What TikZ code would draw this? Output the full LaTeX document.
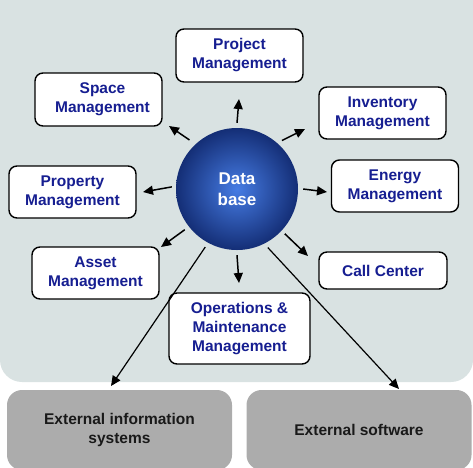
\documentclass[tikz,border=0pt]{standalone}
\usepackage{fontspec}
\setmainfont{Liberation Sans}
\usetikzlibrary{arrows.meta, positioning, shapes.geometric}
\definecolor{panelgrey}{RGB}{217,226,226}
\definecolor{extgrey}{RGB}{172,172,172}
\definecolor{modnavy}{RGB}{22,30,145}
\definecolor{dbbright}{RGB}{70,124,228}
\definecolor{dbdark}{RGB}{20,46,118}

\begin{document}
\begin{tikzpicture}[x=1pt, y=-1pt, >={Triangle[length=10pt, width=9pt]}]
        \tikzstyle{module} = [rectangle, rounded corners=8pt, draw=black, line width=1.4pt, fill=white,
            minimum width=127pt, minimum height=53pt, align=center, text=modnavy,
            font=\fontsize{15.5}{19}\selectfont\bfseries]
        \tikzstyle{external} = [rectangle, rounded corners=15pt, fill=extgrey, minimum width=225pt,
            minimum height=80pt, align=center, text=black!90, font=\fontsize{15.5}{18.5}\selectfont\bfseries]
        \tikzstyle{link} = [->, line width=1.5pt]
        \tikzstyle{longlink} = [->, line width=1.2pt]

        \useasboundingbox (0,0) rectangle (473,467);

        % panel and outside systems
        \fill[panelgrey, rounded corners=22pt] (0,-30) rectangle (473,382);
        \node[external] (extinfo) at (119.5,430) {External information\\systems};
        \node[external] (extsoft) at (359,430) {External software};

        % data base
        \node[circle, minimum size=122pt, inner sep=0pt, shading=radial,
            inner color=dbbright, outer color=dbdark, text=white,
            font=\fontsize{17}{21.5}\selectfont\bfseries, align=center] (db) at (237,189) {Data\\base};

        % modules
        \node[module] (project) at (239.5,55.5) {Project\\Management};
        \node[module] (space) at (98.5,99.5) {\hspace*{8pt}Space\\\hspace*{8pt}Management};
        \node[module, minimum height=52pt] (inventory) at (382.5,113) {Inventory\\Management};
        \node[module, minimum height=52pt] (energy) at (395,186) {Energy\\Management};
        \node[module, minimum height=52pt] (property) at (72.5,192) {Property\\Management};
        \node[module, minimum height=52pt] (asset) at (95.5,273) {Asset\\Management};
        \node[module, minimum width=128pt, minimum height=37pt] (callcenter) at (383,270.5) {Call Center};
        \node[module, minimum width=141pt, minimum height=71pt] (operations) at (239.5,328.5)
            {Operations \&\\Maintenance\\Management};

        % arrow ends
        \coordinate (toproject) at (239,99);
        \coordinate (tospace) at (169,126);
        \coordinate (toinventory) at (305,129);
        \coordinate (toproperty) at (143,192);
        \coordinate (toenergy) at (327,192);
        \coordinate (toasset) at (161,247);
        \coordinate (tocall) at (308,256);
        \coordinate (tooperations) at (239,283);
        \coordinate (toextinfo) at (111,386);
        \coordinate (toextsoft) at (399,389);

        \draw[link] (db.90) ++(0,-5) -- (toproject);
        \draw[link] (db.134) ++(-5,-5) -- (tospace);
        \draw[link] (db.48) ++(4,-3) -- (toinventory);
        \draw[link] (db.178) ++(-4,0) -- (toproperty);
        \draw[link] (db.0) ++(5,0) -- (toenergy);
        \draw[link] (db.218) ++(-4,3) -- (toasset);
        \draw[link] (db.317) ++(3,3) -- (tocall);
        \draw[link] (db.270) ++(0,5) -- (tooperations);
        \draw[longlink] (db.242) ++(-3,4) -- (toextinfo);
        \draw[longlink] (db.297) ++(3,4) -- (toextsoft);

    \end{tikzpicture}
\end{document}
